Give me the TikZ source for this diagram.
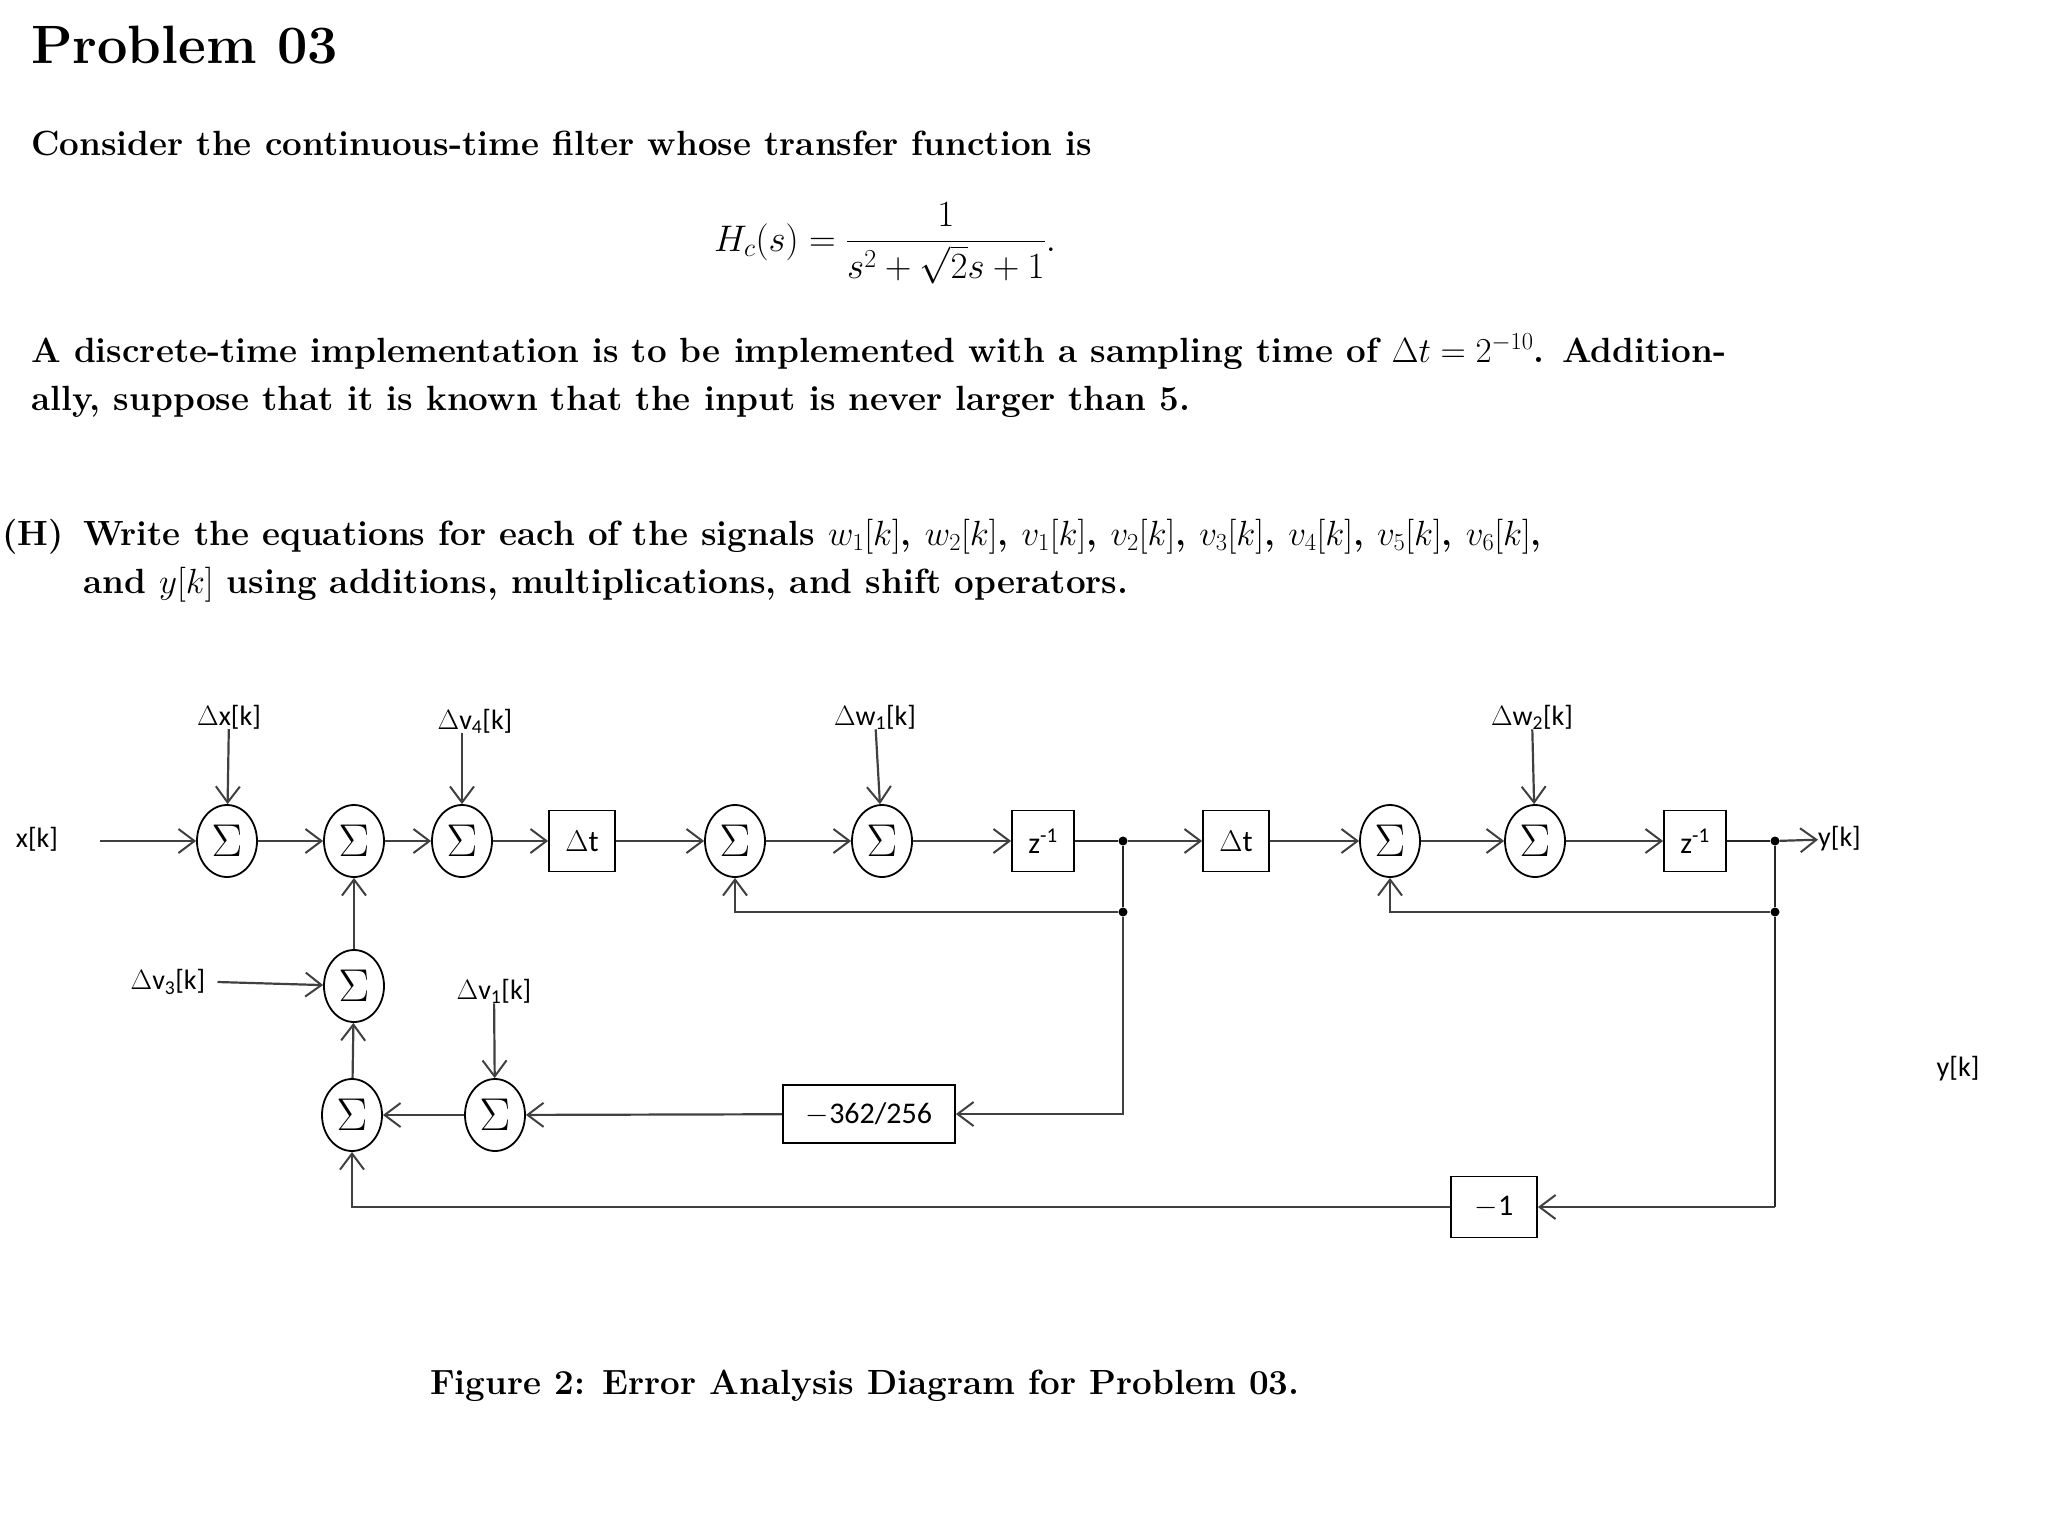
\RequirePackage{fix-cm}
\documentclass[tikz,border=0pt]{standalone}
\usepackage{amsmath}
\usepackage{fontspec}
\newfontfamily\dsans{Carlito}
\usetikzlibrary{arrows.meta,shapes.geometric}
\begin{document}
\begin{tikzpicture}[x=1pt,y=-1pt,
  body/.style={anchor=base west,inner sep=0,font=\fontsize{35}{42}\selectfont\bfseries},
  lab/.style={inner sep=0,font=\dsans\fontsize{28}{32}\selectfont},
  sum/.style={draw,ellipse,minimum width=60,minimum height=72,inner sep=0,line width=1.8,font=\fontsize{46}{48}\selectfont},
  blk/.style={draw,rectangle,inner sep=0,line width=1.8,font=\dsans\fontsize{30}{32}\selectfont},
  dot/.style={circle,fill,inner sep=0,minimum size=9},
  sig/.style={line width=2.2,draw=black!75,-{Straight Barb[length=16,width=24,line width=2]}},
  ln/.style={line width=2.2,draw=black!85}]
\useasboundingbox (0,0) rectangle (2046,1531);
% text
\node[body,font=\fontsize{54}{60}\selectfont\bfseries] (title) at (31,63) {Problem 03};
\node[body] (l1) at (31,155) {Consider the continuous-time filter whose transfer function is};
\node[inner sep=0,font=\fontsize{37}{44}\selectfont] (eq) at (885,243) {$\displaystyle H_c(s)=\frac{1}{s^2+\sqrt{2}s+1}.$};
\node[body] (l2) at (31,362) {A discrete-time implementation is to be implemented with a sampling time of $\Delta t=2^{-10}$. Addition-};
\node[body] (l3) at (31,410) {ally, suppose that it is known that the input is never larger than 5.};
\node[body] (h) at (2,545) {(H)};
\node[body] (l4) at (83,545) {Write the equations for each of the signals $w_1[k]$, $w_2[k]$, $v_1[k]$, $v_2[k]$, $v_3[k]$, $v_4[k]$, $v_5[k]$, $v_6[k]$,};
\node[body] (l5) at (83,593) {and $y[k]$ using additions, multiplications, and shift operators.};
\node[body] (cap) at (430,1394) {Figure 2: Error Analysis Diagram for Problem 03.};
% diagram nodes
\node[lab] (x) at (37,839) {x[k]};
\coordinate (xs) at (100,841);
\node[sum] (s1) at (227,841) {$\Sigma$};
\node[sum] (s2) at (354,841) {$\Sigma$};
\node[sum] (s3) at (462,841) {$\Sigma$};
\node[blk,minimum width=66,minimum height=61] (dt1) at (582,841) {$\Delta$t};
\node[sum] (s4) at (735,841) {$\Sigma$};
\node[sum] (s5) at (882,841) {$\Sigma$};
\node[blk,minimum width=62,minimum height=61] (z1) at (1043,841) {z\textsuperscript{-1}};
\node[dot] (d1) at (1123,841) {};
\node[dot] (d2) at (1123,912) {};
\node[blk,minimum width=66,minimum height=61] (dt2) at (1236,841) {$\Delta$t};
\node[sum] (s6) at (1390,841) {$\Sigma$};
\node[sum] (s7) at (1535,841) {$\Sigma$};
\node[blk,minimum width=62,minimum height=61] (z2) at (1695,841) {z\textsuperscript{-1}};
\node[dot] (d3) at (1775,841) {};
\node[dot] (d4) at (1775,912) {};
\node[lab,anchor=west] (y) at (1818,839) {y[k]};
\node[lab] (y2) at (1958,1069) {y[k]};
\node[lab] (ex) at (229,717) {$\Delta$x[k]};
\node[lab] (ev4) at (475,721) {$\Delta$v\textsubscript{4}[k]};
\node[lab] (ew1) at (875,717) {$\Delta$w\textsubscript{1}[k]};
\node[lab] (ew2) at (1532,717) {$\Delta$w\textsubscript{2}[k]};
\node[sum] (s8) at (354,986) {$\Sigma$};
\node[lab] (ev3) at (168,982) {$\Delta$v\textsubscript{3}[k]};
\node[lab] (ev1) at (494,991) {$\Delta$v\textsubscript{1}[k]};
\node[sum] (s9) at (352,1115) {$\Sigma$};
\node[sum] (s10) at (495,1115) {$\Sigma$};
\node[blk,minimum width=172,minimum height=58] (g1) at (869,1114) {$-$362/256};
\node[blk,minimum width=86,minimum height=61] (g2) at (1494,1207) {$-$1};
\coordinate (c1) at (1775,1207);
% connectors
\draw[sig] (xs) -- (s1);
\draw[sig] (s1) -- (s2);
\draw[sig] (s2) -- (s3);
\draw[sig] (s3) -- (dt1);
\draw[sig] (dt1) -- (s4);
\draw[sig] (s4) -- (s5);
\draw[sig] (s5) -- (z1);
\draw[ln] (z1) -- (d1);
\draw[sig] (d1) -- (dt2);
\draw[sig] (dt2) -- (s6);
\draw[sig] (s6) -- (s7);
\draw[sig] (s7) -- (z2);
\draw[ln] (z2) -- (d3);
\draw[sig] (d3) -- (y);
\draw[sig] (ex) -- (s1);
\draw[sig] (ev4.south -| s3) -- (s3);
\draw[sig] (ew1) -- (s5);
\draw[sig] (ew2) -- (s7);
\draw[ln] (d1) -- (d2);
\draw[sig] (d2) -| (s4);
\draw[ln] (d3) -- (d4);
\draw[sig] (d4) -| (s6);
\draw[sig] (s8) -- (s2);
\draw[sig] ([xshift=12pt]ev3.east) -- (s8);
\draw[sig] (s9) -- (s8);
\draw[sig] (ev1) -- (s10);
\draw[sig] (s10) -- (s9);
\draw[sig] (g1) -- (s10);
\draw[sig] (d2) |- (g1);
\draw[ln] (d4) -- (c1);
\draw[sig] (c1) -- (g2);
\draw[sig] (g2) -| (s9);
\end{tikzpicture}
\end{document}
